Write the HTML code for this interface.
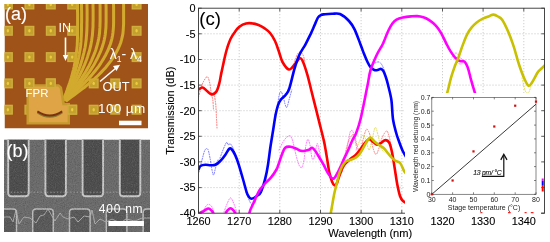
<!DOCTYPE html>
<html><head><meta charset="utf-8"><style>
html,body{margin:0;padding:0;background:#fff;width:550px;height:242px;overflow:hidden}
svg{display:block}
text{font-family:"Liberation Sans",Arial,sans-serif}
</style></head><body>
<svg width="550" height="242" viewBox="0 0 550 242">
<defs>
<clipPath id="ca"><rect x="4.5" y="4" width="143.5" height="124.5"/></clipPath>
<clipPath id="cb"><rect x="4" y="139.5" width="146" height="92.5"/></clipPath>
<clipPath id="cp"><rect x="198.5" y="8.2" width="346" height="205"/></clipPath>
<filter id="nz" x="0" y="0" width="100%" height="100%"><feTurbulence type="fractalNoise" baseFrequency="0.9" numOctaves="2" seed="3"/><feColorMatrix type="matrix" values="0 0 0 0 0.5  0 0 0 0 0.5  0 0 0 0 0.5  1.2 0 0 0 -0.55"/></filter>
<filter id="nz2" x="0" y="0" width="100%" height="100%"><feTurbulence type="fractalNoise" baseFrequency="0.9" numOctaves="2" seed="7"/><feColorMatrix type="matrix" values="0 0 0 0 0  0 0 0 0 0  0 0 0 0 0  0 1.2 0 0 -0.55"/></filter>
<clipPath id="ci"><rect x="431.8" y="97.4" width="104.2" height="96.8"/></clipPath>
</defs>

<g clip-path="url(#ca)">
<rect x="4.5" y="4" width="143.5" height="124.5" fill="#a05318"/>
<rect x="2.9" y="-0.5" width="10" height="10" fill="#cfae3e"/>
<rect x="4.3" y="0.9" width="7.2" height="7.2" fill="#c4a02e"/>
<ellipse cx="7.9" cy="4.5" rx="1.2" ry="1.7" fill="#eccb3e"/>
<rect x="24.4" y="-0.5" width="10" height="10" fill="#cfae3e"/>
<rect x="25.8" y="0.9" width="7.2" height="7.2" fill="#c4a02e"/>
<ellipse cx="29.4" cy="4.5" rx="1.2" ry="1.7" fill="#eccb3e"/>
<rect x="45.8" y="-0.5" width="10" height="10" fill="#cfae3e"/>
<rect x="47.2" y="0.9" width="7.2" height="7.2" fill="#c4a02e"/>
<ellipse cx="50.8" cy="4.5" rx="1.2" ry="1.7" fill="#eccb3e"/>
<rect x="67.2" y="-0.5" width="10" height="10" fill="#cfae3e"/>
<rect x="68.7" y="0.9" width="7.2" height="7.2" fill="#c4a02e"/>
<ellipse cx="72.2" cy="4.5" rx="1.2" ry="1.7" fill="#eccb3e"/>
<rect x="131.6" y="-0.5" width="10" height="10" fill="#cfae3e"/>
<rect x="133.0" y="0.9" width="7.2" height="7.2" fill="#c4a02e"/>
<ellipse cx="136.6" cy="4.5" rx="1.2" ry="1.7" fill="#eccb3e"/>
<rect x="2.9" y="25.8" width="10" height="10" fill="#cfae3e"/>
<rect x="4.3" y="27.2" width="7.2" height="7.2" fill="#c4a02e"/>
<ellipse cx="7.9" cy="30.8" rx="1.2" ry="1.7" fill="#eccb3e"/>
<rect x="24.4" y="25.8" width="10" height="10" fill="#cfae3e"/>
<rect x="25.8" y="27.2" width="7.2" height="7.2" fill="#c4a02e"/>
<ellipse cx="29.4" cy="30.8" rx="1.2" ry="1.7" fill="#eccb3e"/>
<rect x="45.8" y="25.8" width="10" height="10" fill="#cfae3e"/>
<rect x="47.2" y="27.2" width="7.2" height="7.2" fill="#c4a02e"/>
<ellipse cx="50.8" cy="30.8" rx="1.2" ry="1.7" fill="#eccb3e"/>
<rect x="67.2" y="25.8" width="10" height="10" fill="#cfae3e"/>
<rect x="68.7" y="27.2" width="7.2" height="7.2" fill="#c4a02e"/>
<ellipse cx="72.2" cy="30.8" rx="1.2" ry="1.7" fill="#eccb3e"/>
<rect x="131.6" y="25.8" width="10" height="10" fill="#cfae3e"/>
<rect x="133.0" y="27.2" width="7.2" height="7.2" fill="#c4a02e"/>
<ellipse cx="136.6" cy="30.8" rx="1.2" ry="1.7" fill="#eccb3e"/>
<rect x="2.9" y="52.1" width="10" height="10" fill="#cfae3e"/>
<rect x="4.3" y="53.5" width="7.2" height="7.2" fill="#c4a02e"/>
<ellipse cx="7.9" cy="57.1" rx="1.2" ry="1.7" fill="#eccb3e"/>
<rect x="24.4" y="52.1" width="10" height="10" fill="#cfae3e"/>
<rect x="25.8" y="53.5" width="7.2" height="7.2" fill="#c4a02e"/>
<ellipse cx="29.4" cy="57.1" rx="1.2" ry="1.7" fill="#eccb3e"/>
<rect x="45.8" y="52.1" width="10" height="10" fill="#cfae3e"/>
<rect x="47.2" y="53.5" width="7.2" height="7.2" fill="#c4a02e"/>
<ellipse cx="50.8" cy="57.1" rx="1.2" ry="1.7" fill="#eccb3e"/>
<rect x="67.2" y="52.1" width="10" height="10" fill="#cfae3e"/>
<rect x="68.7" y="53.5" width="7.2" height="7.2" fill="#c4a02e"/>
<ellipse cx="72.2" cy="57.1" rx="1.2" ry="1.7" fill="#eccb3e"/>
<rect x="131.6" y="52.1" width="10" height="10" fill="#cfae3e"/>
<rect x="133.0" y="53.5" width="7.2" height="7.2" fill="#c4a02e"/>
<ellipse cx="136.6" cy="57.1" rx="1.2" ry="1.7" fill="#eccb3e"/>
<rect x="2.9" y="78.4" width="10" height="10" fill="#cfae3e"/>
<rect x="4.3" y="79.8" width="7.2" height="7.2" fill="#c4a02e"/>
<ellipse cx="7.9" cy="83.4" rx="1.2" ry="1.7" fill="#eccb3e"/>
<rect x="24.4" y="78.4" width="10" height="10" fill="#cfae3e"/>
<rect x="25.8" y="79.8" width="7.2" height="7.2" fill="#c4a02e"/>
<ellipse cx="29.4" cy="83.4" rx="1.2" ry="1.7" fill="#eccb3e"/>
<rect x="45.8" y="78.4" width="10" height="10" fill="#cfae3e"/>
<rect x="47.2" y="79.8" width="7.2" height="7.2" fill="#c4a02e"/>
<ellipse cx="50.8" cy="83.4" rx="1.2" ry="1.7" fill="#eccb3e"/>
<rect x="88.7" y="78.4" width="10" height="10" fill="#cfae3e"/>
<rect x="90.1" y="79.8" width="7.2" height="7.2" fill="#c4a02e"/>
<ellipse cx="93.7" cy="83.4" rx="1.2" ry="1.7" fill="#eccb3e"/>
<rect x="110.2" y="78.4" width="10" height="10" fill="#cfae3e"/>
<rect x="111.6" y="79.8" width="7.2" height="7.2" fill="#c4a02e"/>
<ellipse cx="115.2" cy="83.4" rx="1.2" ry="1.7" fill="#eccb3e"/>
<rect x="131.6" y="78.4" width="10" height="10" fill="#cfae3e"/>
<rect x="133.0" y="79.8" width="7.2" height="7.2" fill="#c4a02e"/>
<ellipse cx="136.6" cy="83.4" rx="1.2" ry="1.7" fill="#eccb3e"/>
<rect x="2.9" y="104.7" width="10" height="10" fill="#cfae3e"/>
<rect x="4.3" y="106.1" width="7.2" height="7.2" fill="#c4a02e"/>
<ellipse cx="7.9" cy="109.7" rx="1.2" ry="1.7" fill="#eccb3e"/>
<rect x="24.4" y="104.7" width="10" height="10" fill="#cfae3e"/>
<rect x="25.8" y="106.1" width="7.2" height="7.2" fill="#c4a02e"/>
<ellipse cx="29.4" cy="109.7" rx="1.2" ry="1.7" fill="#eccb3e"/>
<rect x="45.8" y="104.7" width="10" height="10" fill="#cfae3e"/>
<rect x="47.2" y="106.1" width="7.2" height="7.2" fill="#c4a02e"/>
<ellipse cx="50.8" cy="109.7" rx="1.2" ry="1.7" fill="#eccb3e"/>
<rect x="67.2" y="104.7" width="10" height="10" fill="#cfae3e"/>
<rect x="68.7" y="106.1" width="7.2" height="7.2" fill="#c4a02e"/>
<ellipse cx="72.2" cy="109.7" rx="1.2" ry="1.7" fill="#eccb3e"/>
<rect x="88.7" y="104.7" width="10" height="10" fill="#cfae3e"/>
<rect x="90.1" y="106.1" width="7.2" height="7.2" fill="#c4a02e"/>
<ellipse cx="93.7" cy="109.7" rx="1.2" ry="1.7" fill="#eccb3e"/>
<rect x="110.2" y="104.7" width="10" height="10" fill="#cfae3e"/>
<rect x="111.6" y="106.1" width="7.2" height="7.2" fill="#c4a02e"/>
<ellipse cx="115.2" cy="109.7" rx="1.2" ry="1.7" fill="#eccb3e"/>
<rect x="131.6" y="104.7" width="10" height="10" fill="#cfae3e"/>
<rect x="133.0" y="106.1" width="7.2" height="7.2" fill="#c4a02e"/>
<ellipse cx="136.6" cy="109.7" rx="1.2" ry="1.7" fill="#eccb3e"/>
<path d="M77.5,-2.0 L77.5,0.7 L77.5,3.3 L77.5,6.0 L77.5,8.7 L77.5,11.3 L77.6,14.0 L77.6,16.7 L77.6,19.3 L77.6,22.0 L77.6,24.6 L77.6,27.3 L77.6,30.0 L77.6,32.6 L77.5,35.3 L77.5,38.0 L77.4,40.6 L77.3,43.3 L77.2,46.0 L76.9,48.6 L76.6,51.3 L76.3,53.9 L75.9,56.5 L75.5,59.2 L75.1,61.8 L74.6,64.4 L74.1,67.0 L73.5,69.6 L72.8,72.2 L72.1,74.8 L71.4,77.4 L70.6,79.9 L69.8,82.4 L68.9,85.0 L68.0,87.5 L67.2,90.0 L66.3,92.5 L65.3,95.0 L64.4,97.5 L63.5,100.0" fill="none" stroke="#d2aa2e" stroke-width="3" stroke-linejoin="round"/>
<path d="M81.5,-2.0 L81.5,0.7 L81.5,3.4 L81.5,6.1 L81.5,8.9 L81.6,11.6 L81.6,14.3 L81.6,17.0 L81.6,19.7 L81.6,22.4 L81.5,25.1 L81.5,27.9 L81.5,30.6 L81.4,33.3 L81.3,36.0 L81.1,38.7 L81.0,41.4 L80.8,44.0 L80.5,46.7 L80.1,49.4 L79.6,52.0 L79.2,54.7 L78.7,57.3 L78.1,59.9 L77.6,62.5 L76.9,65.1 L76.2,67.7 L75.5,70.3 L74.7,72.8 L73.8,75.4 L72.9,77.9 L72.0,80.4 L71.0,82.9 L70.0,85.3 L69.0,87.8 L68.0,90.3 L66.9,92.7 L65.8,95.2 L64.8,97.6 L63.7,100.1" fill="none" stroke="#d2aa2e" stroke-width="3" stroke-linejoin="round"/>
<path d="M87.0,-2.0 L87.0,0.8 L87.0,3.6 L87.0,6.3 L87.1,9.1 L87.1,11.9 L87.1,14.7 L87.1,17.5 L87.1,20.3 L87.0,23.0 L87.0,25.8 L86.9,28.6 L86.8,31.4 L86.6,34.1 L86.4,36.9 L86.2,39.6 L85.8,42.4 L85.5,45.1 L85.0,47.8 L84.4,50.4 L83.8,53.1 L83.1,55.7 L82.5,58.3 L81.7,60.9 L80.9,63.5 L80.1,66.1 L79.2,68.6 L78.2,71.1 L77.2,73.6 L76.2,76.1 L75.1,78.6 L73.9,81.0 L72.7,83.5 L71.5,85.9 L70.3,88.3 L69.1,90.7 L67.8,93.0 L66.5,95.4 L65.3,97.8 L64.0,100.2" fill="none" stroke="#d2aa2e" stroke-width="3" stroke-linejoin="round"/>
<path d="M93.0,-2.0 L93.0,0.9 L93.0,3.7 L93.0,6.6 L93.1,9.4 L93.1,12.3 L93.1,15.1 L93.1,18.0 L93.1,20.9 L93.0,23.7 L93.0,26.6 L92.8,29.4 L92.6,32.3 L92.4,35.1 L92.0,37.9 L91.6,40.7 L91.1,43.4 L90.6,46.2 L89.9,48.9 L89.2,51.6 L88.3,54.2 L87.5,56.9 L86.6,59.5 L85.6,62.0 L84.6,64.6 L83.5,67.1 L82.4,69.6 L81.2,72.1 L80.0,74.6 L78.7,77.0 L77.4,79.4 L76.0,81.8 L74.6,84.1 L73.2,86.5 L71.7,88.8 L70.3,91.1 L68.8,93.4 L67.3,95.7 L65.8,98.0 L64.3,100.3" fill="none" stroke="#d2aa2e" stroke-width="3" stroke-linejoin="round"/>
<path d="M100.0,-2.0 L100.0,0.9 L100.0,3.9 L100.1,6.8 L100.1,9.8 L100.1,12.7 L100.1,15.7 L100.1,18.6 L100.1,21.6 L100.0,24.5 L99.9,27.4 L99.7,30.4 L99.5,33.3 L99.1,36.2 L98.6,39.1 L98.0,41.9 L97.3,44.7 L96.5,47.5 L95.7,50.2 L94.7,52.9 L93.6,55.6 L92.5,58.2 L91.4,60.8 L90.2,63.3 L88.9,65.9 L87.6,68.3 L86.2,70.8 L84.7,73.2 L83.2,75.6 L81.7,78.0 L80.1,80.3 L78.5,82.6 L76.8,84.9 L75.1,87.1 L73.4,89.4 L71.7,91.6 L69.9,93.8 L68.2,96.0 L66.5,98.3 L64.7,100.5" fill="none" stroke="#d2aa2e" stroke-width="3" stroke-linejoin="round"/>
<path d="M106.0,-2.0 L106.0,1.0 L106.0,4.0 L106.1,7.1 L106.1,10.1 L106.1,13.1 L106.1,16.1 L106.1,19.1 L106.1,22.1 L106.0,25.2 L105.9,28.2 L105.6,31.2 L105.3,34.2 L104.8,37.1 L104.2,40.1 L103.5,42.9 L102.6,45.8 L101.7,48.6 L100.6,51.3 L99.4,54.0 L98.2,56.7 L96.9,59.3 L95.5,61.9 L94.1,64.4 L92.6,66.9 L91.0,69.4 L89.4,71.8 L87.7,74.2 L86.0,76.5 L84.2,78.8 L82.4,81.1 L80.6,83.3 L78.7,85.6 L76.8,87.7 L74.8,89.9 L72.9,92.0 L70.9,94.2 L69.0,96.3 L67.0,98.5 L65.0,100.6" fill="none" stroke="#d2aa2e" stroke-width="3" stroke-linejoin="round"/>
<path d="M113.5,-2.0 L113.5,1.1 L113.5,4.2 L113.6,7.3 L113.6,10.4 L113.6,13.6 L113.6,16.7 L113.6,19.8 L113.6,22.9 L113.5,26.0 L113.3,29.1 L113.0,32.2 L112.6,35.3 L112.0,38.3 L111.2,41.3 L110.3,44.3 L109.2,47.1 L108.1,50.0 L106.8,52.7 L105.4,55.5 L103.9,58.1 L102.3,60.7 L100.7,63.3 L99.0,65.8 L97.2,68.3 L95.3,70.7 L93.4,73.0 L91.5,75.4 L89.4,77.6 L87.4,79.9 L85.3,82.1 L83.2,84.2 L81.0,86.4 L78.8,88.5 L76.6,90.5 L74.4,92.5 L72.1,94.6 L69.9,96.7 L67.7,98.7 L65.5,100.8" fill="none" stroke="#d2aa2e" stroke-width="3" stroke-linejoin="round"/>
<path d="M123.5,-2.0 L123.5,1.2 L123.6,4.5 L123.6,7.7 L123.6,10.9 L123.6,14.2 L123.6,17.4 L123.6,20.6 L123.6,23.9 L123.4,27.1 L123.2,30.3 L122.9,33.6 L122.3,36.7 L121.5,39.9 L120.6,43.0 L119.4,46.0 L118.1,48.9 L116.6,51.8 L115.0,54.6 L113.3,57.4 L111.5,60.0 L109.5,62.6 L107.5,65.2 L105.5,67.7 L103.3,70.1 L101.1,72.4 L98.8,74.7 L96.5,77.0 L94.1,79.1 L91.6,81.3 L89.2,83.4 L86.7,85.4 L84.2,87.5 L81.6,89.4 L79.0,91.4 L76.4,93.3 L73.8,95.2 L71.2,97.1 L68.6,99.1 L66.0,101.0" fill="none" stroke="#d2aa2e" stroke-width="3" stroke-linejoin="round"/>
<path d="M26.5,84.2 L59,84.2 L62,87 L64.8,103 L70,103 L70,124.5 L26.5,124.5 Z" fill="#c49a2c"/>
<path d="M28.8,86.6 L58,86.6 L59.8,88.5 L62.3,105.3 L67.6,105.3 L67.6,122.3 L28.8,122.3 Z" fill="#dea445"/>
<path d="M37.4,112.4 Q49.8,121 62.2,112.4" fill="none" stroke="#8a7a2a" stroke-width="2"/>
<path d="M37.4,111.4 Q49.8,119.6 62.2,111.4" fill="none" stroke="#7a3212" stroke-width="1.9"/>
<rect x="24.4" y="78.4" width="10" height="10" fill="#cfae3e"/>
<rect x="25.8" y="79.8" width="7.2" height="7.2" fill="#c4a02e"/>
<ellipse cx="29.4" cy="83.4" rx="1.2" ry="1.7" fill="#eccb3e"/>
<rect x="45.8" y="78.4" width="10" height="10" fill="#cfae3e"/>
<rect x="47.2" y="79.8" width="7.2" height="7.2" fill="#c4a02e"/>
<ellipse cx="50.8" cy="83.4" rx="1.2" ry="1.7" fill="#eccb3e"/>
<rect x="67.2" y="104.7" width="10" height="10" fill="#cfae3e"/>
<rect x="68.7" y="106.1" width="7.2" height="7.2" fill="#c4a02e"/>
<ellipse cx="72.2" cy="109.7" rx="1.2" ry="1.7" fill="#eccb3e"/>
<text x="5" y="19.8" font-size="18" fill="#fff" stroke="#fff" stroke-width="0.1">(a)</text>
<text x="58.6" y="32" font-size="12.5" fill="#fff">IN</text>
<path d="M65.5,37.5 L65.5,56" stroke="#fff" stroke-width="1.6"/>
<path d="M62.8,55 L65.5,61 L68.2,55 Z" fill="#fff"/>
<text x="25.6" y="97.4" font-size="11.4" fill="#fff">FPR</text>
<text x="102.5" y="91.3" font-size="12.8" fill="#fff">OUT</text>
<path d="M100,81.5 L116,68" stroke="#fff" stroke-width="1.5"/>
<path d="M113,66 L120,64.7 L116.5,71 Z" fill="#fff"/>
<text x="109.8" y="59.3" font-size="14" fill="#fff">λ<tspan font-size="8.5" dy="3">1</tspan><tspan dy="-3">- λ</tspan><tspan font-size="8.5" dy="3">4</tspan></text>
<text x="98.1" y="113.3" font-size="13.5" letter-spacing="0.35" fill="#fff">100 µm</text>
<rect x="119" y="120.7" width="22.5" height="4.5" fill="#fff"/>
</g>
<g clip-path="url(#cb)">
<rect x="4" y="139.5" width="146" height="92.5" fill="#6c6c6c"/>
<path d="M8.2,139 L8.2,193 Q8.2,196.2 11.4,196.2 L25.5,196.2 Q28.7,196.2 28.7,193 L28.7,139 Z" fill="#4e4e4e" stroke="#cacaca" stroke-width="1.9"/>
<path d="M45.4,139 L45.4,193 Q45.4,196.2 48.6,196.2 L62.7,196.2 Q65.9,196.2 65.9,193 L65.9,139 Z" fill="#4e4e4e" stroke="#cacaca" stroke-width="1.9"/>
<path d="M82.6,139 L82.6,193 Q82.6,196.2 85.8,196.2 L99.9,196.2 Q103.1,196.2 103.1,193 L103.1,139 Z" fill="#4e4e4e" stroke="#cacaca" stroke-width="1.9"/>
<path d="M119.8,139 L119.8,193 Q119.8,196.2 123.0,196.2 L137.1,196.2 Q140.3,196.2 140.3,193 L140.3,139 Z" fill="#4e4e4e" stroke="#cacaca" stroke-width="1.9"/>
<path d="M4,192.2 H150" stroke="#b0b0b0" stroke-width="0.7" stroke-dasharray="1.5,1.8"/>
<path d="M-4.1,233 L-4.1,212.5 Q-4.1,209 -0.6,209 L13.0,209 Q16.5,209 16.5,212.5 L16.5,233 Z" fill="#5a5a5a" stroke="#bcbcbc" stroke-width="1.5"/>
<path d="M32.7,233 L32.7,212.5 Q32.7,209 36.2,209 L49.8,209 Q53.3,209 53.3,212.5 L53.3,233 Z" fill="#5a5a5a" stroke="#bcbcbc" stroke-width="1.5"/>
<path d="M69.5,233 L69.5,212.5 Q69.5,209 73.0,209 L86.6,209 Q90.1,209 90.1,212.5 L90.1,233 Z" fill="#5a5a5a" stroke="#bcbcbc" stroke-width="1.5"/>
<path d="M106.3,233 L106.3,212.5 Q106.3,209 109.8,209 L123.4,209 Q126.9,209 126.9,212.5 L126.9,233 Z" fill="#5a5a5a" stroke="#bcbcbc" stroke-width="1.5"/>
<path d="M143.1,233 L143.1,212.5 Q143.1,209 146.6,209 L160.2,209 Q163.7,209 163.7,212.5 L163.7,233 Z" fill="#5a5a5a" stroke="#bcbcbc" stroke-width="1.5"/>
<path d="M4,217 L10,217 L13,222 L16,210 L19,224 L24,217 L30,218 L36,223 L40,216 L44,215 L48,209 L52,216 L55,221 L60,213 L63,217 L68,219 L74,217 L78,222 L84,216 L90,217 L92,210 L95,224 L100,219 L106,222 L112,219 L120,223 L126,219 L135,221 L142,218 L150,218" fill="none" stroke="#b4b4b4" stroke-width="0.9"/>
<rect x="4" y="139.5" width="146" height="92.5" filter="url(#nz)" opacity="0.35"/>
<rect x="4" y="139.5" width="146" height="92.5" filter="url(#nz2)" opacity="0.35"/>
<text x="6.5" y="157.4" font-size="18" fill="#fff" stroke="#fff" stroke-width="0.1">(b)</text>
<text x="98.8" y="213" font-size="12" letter-spacing="0.75" fill="#fff">400 nm</text>
<rect x="108.4" y="221" width="35.5" height="5" fill="#fff"/>
</g>
<path d="M239.2,8.2 V213.2 M279.8,8.2 V213.2 M320.5,8.2 V213.2 M361.1,8.2 V213.2 M401.8,8.2 V213.2 M442.5,8.2 V213.2 M483.1,8.2 V213.2 M523.8,8.2 V213.2 M198.5,33.8 H544.5 M198.5,59.5 H544.5 M198.5,85.1 H544.5 M198.5,110.7 H544.5 M198.5,136.3 H544.5 M198.5,161.9 H544.5 M198.5,187.6 H544.5" stroke="#b4b4b4" stroke-width="0.8" stroke-dasharray="1,2" fill="none"/>
<g clip-path="url(#cp)" fill="none" stroke-linejoin="round" stroke-linecap="round">
<path d="M198.5,97.0 C199.1,95.0 200.9,88.0 202.0,85.0 C203.1,82.0 204.1,80.4 205.0,79.0 C205.9,77.6 206.7,76.2 207.4,76.7 C208.2,77.2 208.8,79.1 209.5,82.0 C210.2,84.9 210.8,91.2 211.4,94.2 C212.0,97.2 212.5,97.4 212.8,100.0 C213.2,102.6 213.4,108.3 213.5,110.0" stroke="#ff4040" stroke-width="0.9" stroke-dasharray="1,1.6" opacity="0.8"/>
<path d="M214.5,96.0 C214.7,97.5 215.5,101.3 215.8,105.0 C216.1,108.7 216.3,114.2 216.5,118.0 C216.7,121.8 216.9,126.3 217.0,128.0" stroke="#ff4040" stroke-width="0.9" stroke-dasharray="1,1.6" opacity="0.8"/>
<path d="M294.0,64.0 C294.5,62.5 296.0,57.0 297.0,55.0 C298.0,53.0 299.0,52.0 300.0,52.0 C301.0,52.0 302.2,53.3 303.0,55.0 C303.8,56.7 304.7,60.8 305.0,62.0" stroke="#ff4040" stroke-width="0.9" stroke-dasharray="1,1.6" opacity="0.8"/>
<path d="M275.0,115.0 C275.3,113.8 276.3,111.2 277.0,108.0 C277.7,104.8 278.4,98.8 279.0,96.0 C279.6,93.2 280.1,91.5 280.8,91.5 C281.5,91.5 282.3,93.9 283.0,96.0 C283.7,98.1 284.4,102.1 285.0,104.0 C285.6,105.9 286.1,108.0 286.8,107.3 C287.5,106.6 288.2,102.9 289.0,100.0 C289.8,97.1 291.3,91.7 291.8,90.0" stroke="#4040ff" stroke-width="0.9" stroke-dasharray="1,1.6" opacity="0.8"/>
<path d="M199.0,172.0 C199.5,170.0 201.0,163.7 202.0,160.0 C203.0,156.3 204.0,151.8 205.0,150.0 C206.0,148.2 207.1,148.2 207.9,149.5 C208.7,150.8 209.3,154.6 210.0,158.0 C210.7,161.4 211.4,167.2 212.0,170.0 C212.6,172.8 212.9,175.3 213.5,175.0 C214.1,174.7 214.8,170.5 215.5,168.0 C216.2,165.5 217.6,161.3 218.0,160.0" stroke="#4040ff" stroke-width="0.9" stroke-dasharray="1,1.6" opacity="0.8"/>
<path d="M220.0,158.0 C220.5,156.7 221.9,152.6 223.0,150.0 C224.1,147.4 225.6,143.3 226.5,142.5 C227.4,141.7 227.9,144.8 228.5,145.0 C229.1,145.2 229.4,143.2 230.2,143.7 C230.9,144.2 232.0,145.9 233.0,148.0 C234.0,150.1 235.5,154.7 236.0,156.0" stroke="#4040ff" stroke-width="0.9" stroke-dasharray="1,1.6" opacity="0.8"/>
<path d="M371.0,66.0 C371.7,65.5 373.7,63.7 375.0,63.0 C376.3,62.3 377.7,61.7 378.9,62.0 C380.1,62.3 381.0,63.3 382.0,65.0 C383.0,66.7 384.5,70.8 385.0,72.0" stroke="#4040ff" stroke-width="0.9" stroke-dasharray="1,1.6" opacity="0.8"/>
<path d="M246.0,192.0 C246.7,193.7 248.8,199.8 250.0,202.0 C251.2,204.2 252.0,205.3 253.0,205.0 C254.0,204.7 255.5,200.8 256.0,200.0" stroke="#4040ff" stroke-width="0.9" stroke-dasharray="1,1.6" opacity="0.8"/>
<path d="M203.0,212.0 C203.5,211.0 205.0,207.3 206.0,206.0 C207.0,204.7 208.0,204.2 209.0,204.4 C210.0,204.6 211.2,205.6 212.0,207.0 C212.8,208.4 213.7,212.0 214.0,213.0" stroke="#ff40ff" stroke-width="0.9" stroke-dasharray="1,1.6" opacity="0.8"/>
<path d="M224.0,212.0 C224.5,210.7 225.9,206.3 227.0,204.0 C228.1,201.7 229.3,197.9 230.5,197.9 C231.7,197.9 232.9,201.5 234.0,204.0 C235.1,206.5 236.5,211.5 237.0,213.0" stroke="#ff40ff" stroke-width="0.9" stroke-dasharray="1,1.6" opacity="0.8"/>
<path d="M279.0,150.0 C279.7,148.7 281.7,144.2 283.0,142.0 C284.3,139.8 285.8,138.0 287.0,137.0 C288.2,136.0 289.4,135.2 290.4,136.0 C291.4,136.8 292.1,138.8 293.0,142.0 C293.9,145.2 295.0,151.2 296.0,155.0 C297.0,158.8 298.0,162.9 299.0,165.0 C300.0,167.1 301.0,168.2 301.8,167.4 C302.6,166.6 303.3,163.7 304.0,160.0 C304.7,156.3 305.3,148.4 306.0,145.0 C306.7,141.6 307.3,139.5 308.0,139.5 C308.7,139.5 309.3,141.9 310.0,145.0 C310.7,148.1 311.3,155.8 312.0,158.0 C312.7,160.2 313.3,159.7 314.0,158.0 C314.7,156.3 315.4,150.4 316.0,148.0 C316.6,145.6 316.8,143.3 317.3,143.6 C317.8,143.9 318.4,147.3 319.0,150.0 C319.6,152.7 320.7,158.3 321.0,160.0" stroke="#ff40ff" stroke-width="0.9" stroke-dasharray="1,1.6" opacity="0.8"/>
<path d="M343.0,160.0 C343.6,158.8 345.4,156.3 346.3,153.0 C347.2,149.7 347.8,143.6 348.5,140.0 C349.2,136.4 349.7,132.9 350.4,131.4 C351.1,129.9 351.9,130.2 352.5,130.8 C353.1,131.4 353.5,133.0 354.0,135.0 C354.5,137.0 355.1,140.3 355.6,142.8 C356.1,145.3 356.8,148.8 357.0,150.0" stroke="#ff40ff" stroke-width="0.9" stroke-dasharray="1,1.6" opacity="0.8"/>
<path d="M452.0,57.0 C452.7,56.3 454.7,53.0 456.0,53.0 C457.3,53.0 458.8,55.5 460.0,57.0 C461.2,58.5 463.0,60.8 463.0,62.0 C463.0,63.2 461.2,64.2 460.0,64.0 C458.8,63.8 456.7,61.5 456.0,61.0" stroke="#ff40ff" stroke-width="0.9" stroke-dasharray="1,1.6" opacity="0.8"/>
<path d="M342.0,172.0 C342.7,168.3 344.7,155.7 346.0,150.0 C347.3,144.3 348.7,140.5 350.0,138.0 C351.3,135.5 352.8,133.8 354.0,135.0 C355.2,136.2 356.0,142.2 357.0,145.0 C358.0,147.8 359.0,152.8 360.0,152.0 C361.0,151.2 361.9,143.8 363.0,140.0 C364.1,136.2 365.3,130.1 366.5,129.3 C367.7,128.5 368.9,131.9 370.0,135.0 C371.1,138.1 372.0,144.8 373.0,148.0 C374.0,151.2 375.0,154.5 376.0,154.5 C377.0,154.5 378.0,150.8 379.0,148.0 C380.0,145.2 380.8,140.8 382.0,138.0 C383.2,135.2 385.3,131.3 386.5,131.0 C387.7,130.7 388.2,133.7 389.0,136.0 C389.8,138.3 390.7,143.5 391.0,145.0" stroke="#ff5050" stroke-width="0.9" stroke-dasharray="1,1.6" opacity="0.8"/>
<path d="M356.0,150.0 C356.7,148.3 358.8,142.5 360.0,140.0 C361.2,137.5 362.0,135.0 363.0,135.0 C364.0,135.0 365.0,137.5 366.0,140.0 C367.0,142.5 368.0,150.0 369.0,150.0 C370.0,150.0 371.0,143.8 372.0,140.0 C373.0,136.2 374.2,128.3 375.2,127.5 C376.2,126.7 377.0,131.6 378.0,135.0 C379.0,138.4 380.0,145.2 381.0,148.0 C382.0,150.8 383.5,151.3 384.0,152.0" stroke="#d8d020" stroke-width="0.9" stroke-dasharray="1,1.6" opacity="0.8"/>
<path d="M522.0,78.0 C522.5,80.0 524.2,87.5 525.0,90.0 C525.8,92.5 526.3,92.7 527.0,93.0 C527.7,93.3 528.3,93.2 529.0,92.0 C529.7,90.8 530.7,87.0 531.0,86.0" stroke="#d8d020" stroke-width="0.9" stroke-dasharray="1,1.6" opacity="0.8"/>
<path d="M198.5,89.4 C199.2,89.1 201.1,87.2 202.6,87.5 C204.1,87.8 205.7,90.1 207.3,91.3 C208.9,92.5 210.4,94.4 212.0,94.4 C213.6,94.4 215.4,93.2 216.6,91.3 C217.8,89.4 218.6,85.9 219.4,82.9 C220.2,80.0 220.5,76.8 221.2,73.6 C221.9,70.4 222.7,66.6 223.4,63.5 C224.1,60.4 224.6,57.7 225.3,55.0 C226.0,52.3 226.5,50.0 227.4,47.3 C228.3,44.6 229.3,41.5 230.5,39.0 C231.7,36.5 233.1,34.3 234.7,32.2 C236.2,30.1 237.9,27.8 239.8,26.4 C241.7,24.9 243.9,24.0 246.0,23.5 C248.1,23.0 250.2,23.1 252.3,23.4 C254.4,23.6 256.4,24.2 258.5,25.0 C260.6,25.8 262.8,27.1 264.7,28.4 C266.6,29.7 268.2,30.7 269.9,32.8 C271.6,34.9 273.5,37.9 275.0,41.0 C276.5,44.1 277.6,47.8 278.8,51.3 C280.1,54.8 280.8,59.0 282.5,62.0 C284.2,65.0 287.0,69.1 289.0,69.5 C291.0,69.9 292.9,66.2 294.7,64.3 C296.5,62.4 298.6,58.6 300.0,58.3 C301.4,58.0 302.1,59.6 303.3,62.4 C304.5,65.2 306.0,70.0 307.4,74.8 C308.8,79.6 310.1,85.8 311.5,91.3 C312.9,96.8 314.3,102.4 315.7,107.9 C317.1,113.4 318.4,118.9 319.8,124.4 C321.2,129.9 322.9,136.5 323.9,140.9 C324.9,145.3 325.2,147.6 325.8,151.0 C326.4,154.4 326.9,157.6 327.5,161.2 C328.1,164.8 328.5,169.0 329.3,172.4 C330.1,175.8 331.2,179.5 332.1,181.7 C333.0,183.9 333.7,185.1 334.5,185.4 C335.3,185.7 336.1,184.7 336.8,183.5 C337.5,182.3 337.8,180.2 338.6,178.0 C339.4,175.8 340.5,172.7 341.4,170.5 C342.3,168.3 342.7,166.8 344.2,164.9 C345.7,163.0 348.5,160.7 350.4,159.0 C352.3,157.3 353.9,156.8 355.7,155.0 C357.5,153.2 359.5,150.2 361.1,148.2 C362.7,146.2 363.8,144.3 365.1,142.8 C366.5,141.3 367.9,139.4 369.2,139.3 C370.5,139.2 371.9,141.1 373.2,142.0 C374.5,142.9 375.8,144.6 377.2,144.7 C378.6,144.8 379.9,143.6 381.3,142.8 C382.7,142.0 384.0,140.1 385.3,140.1 C386.6,140.1 388.2,140.8 389.3,142.8 C390.4,144.8 391.1,147.9 392.0,152.2 C392.9,156.4 393.8,162.8 394.7,168.3 C395.6,173.8 396.5,180.4 397.4,185.0 C398.3,189.6 399.1,193.3 400.0,196.0 C400.9,198.7 401.3,199.5 403.0,201.0 C404.7,202.5 408.8,204.3 410.0,205.0" stroke="#ff0000" stroke-width="2.6"/>
<path d="M198.5,169.5 C198.8,168.9 199.3,166.8 200.5,166.0 C201.7,165.2 203.8,164.9 205.4,164.8 C207.1,164.7 208.8,165.2 210.4,165.2 C212.1,165.2 213.7,165.5 215.3,164.8 C217.0,164.1 218.7,162.7 220.3,161.0 C222.0,159.3 223.8,156.9 225.2,154.9 C226.6,152.9 228.0,150.0 229.0,149.0 C230.0,148.0 230.4,148.0 231.4,149.0 C232.4,150.0 233.9,152.3 235.1,154.9 C236.3,157.5 237.4,160.3 238.8,164.8 C240.2,169.3 242.4,177.1 243.8,182.0 C245.2,186.9 246.2,191.7 247.5,194.5 C248.8,197.3 249.8,198.5 251.5,198.7 C253.2,198.9 255.9,196.6 257.5,195.5 C259.1,194.4 259.5,194.9 260.8,192.2 C262.1,189.5 263.9,183.8 265.1,179.2 C266.3,174.6 267.1,170.4 268.0,164.7 C268.9,159.0 269.8,150.8 270.7,145.0 C271.6,139.2 272.4,134.7 273.2,129.7 C274.0,124.7 274.8,118.9 275.6,114.8 C276.4,110.7 277.3,107.4 278.1,104.9 C278.9,102.4 279.4,101.6 280.6,99.9 C281.9,98.2 284.2,96.8 285.6,94.9 C287.1,93.0 287.8,93.0 289.3,88.5 C290.8,84.0 293.0,73.6 294.7,68.0 C296.4,62.4 297.5,59.0 299.3,55.0 C301.1,51.0 303.6,47.8 305.5,44.3 C307.4,40.8 309.1,37.2 310.7,33.9 C312.2,30.6 313.6,27.3 314.8,24.6 C316.0,21.9 316.9,19.2 317.9,17.6 C318.9,16.0 319.8,15.6 321.0,15.0 C322.2,14.4 323.3,14.5 325.1,14.3 C326.9,14.1 329.5,13.9 332.0,13.8 C334.5,13.8 337.2,12.8 340.0,14.0 C342.8,15.2 346.6,18.4 349.0,21.0 C351.4,23.6 352.8,25.6 354.7,29.6 C356.6,33.6 359.1,40.9 360.7,45.0 C362.3,49.1 363.0,51.3 364.1,54.1 C365.2,56.9 366.4,59.7 367.5,62.0 C368.6,64.3 369.8,66.4 370.9,67.7 C372.0,69.0 373.2,69.6 374.3,70.0 C375.4,70.4 376.6,70.2 377.7,70.0 C378.8,69.8 380.2,68.7 381.1,68.9 C382.1,69.1 382.6,69.8 383.4,71.1 C384.2,72.4 384.9,74.5 385.7,76.8 C386.5,79.1 387.1,80.9 388.0,84.8 C388.9,88.7 390.6,94.3 391.4,100.0 C392.2,105.7 392.2,113.8 393.0,119.2 C393.8,124.6 395.1,128.7 396.0,132.2 C396.9,135.7 397.3,136.8 398.5,140.0 C399.7,143.2 401.4,148.2 403.0,151.5 C404.6,154.8 407.2,158.6 408.0,160.0" stroke="#0000ff" stroke-width="2.6"/>
<path d="M198.5,213.7 C199.2,213.3 201.4,212.4 203.0,211.5 C204.6,210.6 206.7,208.6 208.2,208.5 C209.7,208.4 210.9,209.9 212.0,211.0 C213.1,212.1 213.0,214.3 215.0,215.0 C217.0,215.7 222.0,215.7 224.0,215.0 C226.0,214.3 225.9,212.1 227.0,211.0 C228.1,209.9 229.3,208.2 230.5,208.2 C231.7,208.2 232.9,209.9 234.0,211.0 C235.1,212.1 234.8,214.2 237.0,215.0 C239.2,215.8 245.2,216.4 247.5,215.5 C249.8,214.6 249.5,211.6 250.5,209.5 C251.5,207.4 252.5,205.2 253.5,203.0 C254.5,200.8 255.2,198.8 256.3,196.5 C257.4,194.2 258.5,191.7 260.0,189.5 C261.5,187.3 263.3,185.5 265.1,183.5 C266.9,181.5 269.0,180.0 270.9,177.7 C272.8,175.4 275.3,171.6 276.5,169.5 C277.7,167.4 277.3,167.9 278.2,165.3 C279.1,162.7 280.9,156.8 282.1,153.9 C283.3,151.0 283.8,148.9 285.2,147.7 C286.6,146.5 288.5,146.5 290.4,146.7 C292.3,146.9 294.9,148.1 296.6,148.8 C298.3,149.5 299.3,150.5 300.7,150.8 C302.1,151.1 303.5,151.0 304.9,150.8 C306.3,150.6 307.8,150.3 309.0,149.8 C310.2,149.3 311.1,147.5 312.1,147.7 C313.1,147.9 314.0,149.2 315.2,150.8 C316.4,152.4 317.9,155.2 319.3,157.5 C320.7,159.8 322.3,162.4 323.7,164.9 C325.1,167.4 326.2,170.3 327.5,172.4 C328.8,174.5 330.1,176.6 331.2,177.6 C332.3,178.6 333.1,178.9 334.0,178.3 C334.9,177.7 335.7,176.1 336.8,174.2 C337.9,172.3 339.3,169.4 340.5,166.8 C341.7,164.2 342.9,161.1 344.2,158.4 C345.4,155.7 346.6,153.6 348.0,150.5 C349.4,147.4 351.1,142.9 352.5,140.0 C353.9,137.1 354.9,136.5 356.2,133.0 C357.5,129.5 359.1,124.9 360.5,119.2 C361.9,113.5 363.6,104.7 364.8,98.9 C366.0,93.1 366.7,89.3 367.7,84.5 C368.7,79.7 369.1,74.9 370.6,70.0 C372.1,65.1 374.7,59.4 376.6,55.2 C378.6,51.0 381.1,47.4 382.3,45.0 C383.6,42.6 383.1,43.4 384.1,41.0 C385.1,38.6 386.9,33.6 388.3,30.7 C389.7,27.8 391.0,25.4 392.4,23.5 C393.8,21.6 394.8,20.6 396.5,19.6 C398.2,18.6 400.3,18.0 402.7,17.5 C405.1,17.0 408.6,16.6 411.0,16.4 C413.4,16.2 415.1,16.0 417.2,16.1 C419.3,16.2 421.3,16.6 423.4,17.3 C425.5,18.0 427.5,19.0 429.6,20.4 C431.7,21.8 433.9,23.5 435.8,25.6 C437.7,27.7 439.3,29.9 441.0,32.8 C442.7,35.7 444.6,40.2 446.1,43.1 C447.6,46.0 448.5,48.0 450.0,50.4 C451.5,52.8 453.2,55.6 454.9,57.4 C456.5,59.2 458.4,60.5 459.9,61.1 C461.3,61.7 462.6,60.7 463.6,61.1 C464.6,61.5 465.2,62.2 466.0,63.6 C466.8,65.0 467.7,67.1 468.5,69.8 C469.3,72.5 470.0,76.0 471.0,79.7 C472.0,83.4 473.5,88.4 474.7,92.1 C475.9,95.8 477.4,100.3 478.0,102.0" stroke="#ff00ff" stroke-width="2.6"/>
<path d="M330.5,215.0 C331.1,211.7 333.1,199.6 334.0,195.0 C334.9,190.4 335.2,189.8 335.8,187.3 C336.4,184.8 337.1,182.3 337.7,179.8 C338.3,177.3 338.8,174.7 339.6,172.4 C340.4,170.1 341.3,167.7 342.4,165.8 C343.5,163.9 344.8,162.2 346.1,161.2 C347.4,160.2 348.8,160.6 350.4,160.0 C352.0,159.4 354.1,158.7 355.7,157.6 C357.3,156.5 358.4,155.4 359.8,153.6 C361.2,151.8 362.5,149.2 363.8,146.9 C365.1,144.7 366.7,141.7 367.8,140.1 C368.9,138.5 369.4,137.3 370.5,137.5 C371.6,137.7 373.1,140.3 374.5,141.5 C375.9,142.7 377.0,143.6 378.6,144.7 C380.2,145.8 382.1,146.5 383.9,148.2 C385.7,149.9 387.5,152.9 389.3,154.9 C391.1,156.9 392.9,159.0 394.7,160.3 C396.5,161.7 398.5,161.2 400.1,163.0 C401.7,164.8 402.8,168.8 404.1,171.0 C405.4,173.2 407.5,174.6 408.1,176.4 C408.8,178.2 408.0,181.1 408.0,182.0" stroke="#c8c000" stroke-width="2.6"/>
<path d="M440.0,115.0 C440.7,112.7 442.8,104.8 444.0,101.0 C445.2,97.2 446.2,96.1 447.4,92.1 C448.6,88.1 449.9,81.5 451.2,77.2 C452.4,72.9 453.8,69.1 454.9,66.0 C456.0,62.9 457.1,61.3 458.1,58.5 C459.2,55.7 460.2,52.2 461.2,49.3 C462.2,46.4 463.3,43.6 464.3,41.0 C465.3,38.4 466.2,36.0 467.4,33.8 C468.6,31.6 469.9,29.5 471.5,27.6 C473.1,25.7 474.8,23.9 476.7,22.4 C478.6,20.9 480.8,19.7 482.9,18.7 C485.0,17.7 487.3,16.9 489.1,16.2 C490.9,15.5 492.0,14.5 493.5,14.6 C495.0,14.7 496.5,15.6 498.0,16.5 C499.5,17.4 500.7,17.6 502.3,20.0 C503.9,22.4 506.0,26.7 507.9,31.0 C509.8,35.3 511.6,40.3 513.5,45.9 C515.4,51.5 517.1,58.9 519.0,64.5 C520.9,70.1 523.0,75.8 524.6,79.3 C526.2,82.8 527.4,85.3 528.6,85.8 C529.8,86.3 530.5,84.7 532.0,82.5 C533.5,80.3 536.1,74.8 537.6,72.5 C539.1,70.2 539.6,70.4 541.0,69.0 C542.4,67.6 545.2,64.8 546.0,64.0" stroke="#c8c000" stroke-width="2.6"/>
</g>
<rect x="198.5" y="8.2" width="346.0" height="205.0" fill="none" stroke="#333" stroke-width="0.9"/>
<path d="M198.5,213.2 v-3.2 M198.5,8.2 v3.2 M239.2,213.2 v-3.2 M239.2,8.2 v3.2 M279.8,213.2 v-3.2 M279.8,8.2 v3.2 M320.5,213.2 v-3.2 M320.5,8.2 v3.2 M361.1,213.2 v-3.2 M361.1,8.2 v3.2 M401.8,213.2 v-3.2 M401.8,8.2 v3.2 M442.5,213.2 v-3.2 M442.5,8.2 v3.2 M483.1,213.2 v-3.2 M483.1,8.2 v3.2 M523.8,213.2 v-3.2 M523.8,8.2 v3.2 M198.5,8.2 h3.2 M544.5,8.2 h-3.2 M198.5,33.8 h3.2 M544.5,33.8 h-3.2 M198.5,59.5 h3.2 M544.5,59.5 h-3.2 M198.5,85.1 h3.2 M544.5,85.1 h-3.2 M198.5,110.7 h3.2 M544.5,110.7 h-3.2 M198.5,136.3 h3.2 M544.5,136.3 h-3.2 M198.5,161.9 h3.2 M544.5,161.9 h-3.2 M198.5,187.6 h3.2 M544.5,187.6 h-3.2 M198.5,213.2 h3.2 M544.5,213.2 h-3.2" stroke="#333" stroke-width="0.8"/>
<rect x="405" y="93" width="136" height="122" fill="#fff"/>
<path d="M480.4,212.6 h2 M508,212.6 h2.7 M524.6,212.6 h2 M530.8,212.6 h2.7" stroke="#ff2020" stroke-width="1.4"/>
<path d="M542.7,178.5 V180.8" stroke="#ff00ff" stroke-width="2"/><path d="M542.7,180.8 V185" stroke="#0000ff" stroke-width="2"/><path d="M542.7,185 V191.5" stroke="#ff0000" stroke-width="2"/>
<text x="195.5" y="12.0" font-size="10.9" text-anchor="end" fill="#000" stroke="#000" stroke-width="0.1">0</text>
<text x="195.5" y="37.6" font-size="10.9" text-anchor="end" fill="#000" stroke="#000" stroke-width="0.1">-5</text>
<text x="195.5" y="63.2" font-size="10.9" text-anchor="end" fill="#000" stroke="#000" stroke-width="0.1">-10</text>
<text x="195.5" y="88.9" font-size="10.9" text-anchor="end" fill="#000" stroke="#000" stroke-width="0.1">-15</text>
<text x="195.5" y="114.5" font-size="10.9" text-anchor="end" fill="#000" stroke="#000" stroke-width="0.1">-20</text>
<text x="195.5" y="140.1" font-size="10.9" text-anchor="end" fill="#000" stroke="#000" stroke-width="0.1">-25</text>
<text x="195.5" y="165.8" font-size="10.9" text-anchor="end" fill="#000" stroke="#000" stroke-width="0.1">-30</text>
<text x="195.5" y="191.4" font-size="10.9" text-anchor="end" fill="#000" stroke="#000" stroke-width="0.1">-35</text>
<text x="195.5" y="217.0" font-size="10.9" text-anchor="end" fill="#000" stroke="#000" stroke-width="0.1">-40</text>
<text x="198.5" y="225.3" font-size="10.9" text-anchor="middle" fill="#000" stroke="#000" stroke-width="0.1">1260</text>
<text x="239.2" y="225.3" font-size="10.9" text-anchor="middle" fill="#000" stroke="#000" stroke-width="0.1">1270</text>
<text x="279.8" y="225.3" font-size="10.9" text-anchor="middle" fill="#000" stroke="#000" stroke-width="0.1">1280</text>
<text x="320.5" y="225.3" font-size="10.9" text-anchor="middle" fill="#000" stroke="#000" stroke-width="0.1">1290</text>
<text x="361.1" y="225.3" font-size="10.9" text-anchor="middle" fill="#000" stroke="#000" stroke-width="0.1">1300</text>
<text x="401.8" y="225.3" font-size="10.9" text-anchor="middle" fill="#000" stroke="#000" stroke-width="0.1">1310</text>
<text x="442.5" y="225.3" font-size="10.9" text-anchor="middle" fill="#000" stroke="#000" stroke-width="0.1">1320</text>
<text x="483.1" y="225.3" font-size="10.9" text-anchor="middle" fill="#000" stroke="#000" stroke-width="0.1">1330</text>
<text x="523.8" y="225.3" font-size="10.9" text-anchor="middle" fill="#000" stroke="#000" stroke-width="0.1">1340</text>
<text x="370.2" y="236.8" font-size="11.1" text-anchor="middle" fill="#000" stroke="#000" stroke-width="0.1">Wavelength (nm)</text>
<text transform="translate(174.3,110.7) rotate(-90)" font-size="10.9" text-anchor="middle" fill="#000" stroke="#000" stroke-width="0.1">Transmission (dB)</text>
<text x="199.3" y="25.2" font-size="18.5" fill="#000" stroke="#000" stroke-width="0.05">(c)</text>
<rect x="431.8" y="97.4" width="104.2" height="96.9" fill="none" stroke="#555" stroke-width="0.7"/>
<path d="M431.8,194.3 v-2 M431.8,97.4 v2 M452.6,194.3 v-2 M452.6,97.4 v2 M473.5,194.3 v-2 M473.5,97.4 v2 M494.3,194.3 v-2 M494.3,97.4 v2 M515.2,194.3 v-2 M515.2,97.4 v2 M536.0,194.3 v-2 M536.0,97.4 v2 M431.8,194.3 h2 M536.0,194.3 h-2 M431.8,180.5 h2 M536.0,180.5 h-2 M431.8,166.6 h2 M536.0,166.6 h-2 M431.8,152.8 h2 M536.0,152.8 h-2 M431.8,138.9 h2 M536.0,138.9 h-2 M431.8,125.1 h2 M536.0,125.1 h-2 M431.8,111.2 h2 M536.0,111.2 h-2 M431.8,97.4 h2 M536.0,97.4 h-2" stroke="#333" stroke-width="0.6"/>
<text x="430.4" y="196.7" font-size="7" text-anchor="end" fill="#222">0</text>
<text x="430.4" y="182.9" font-size="7" text-anchor="end" fill="#222">0.1</text>
<text x="430.4" y="169.0" font-size="7" text-anchor="end" fill="#222">0.2</text>
<text x="430.4" y="155.2" font-size="7" text-anchor="end" fill="#222">0.3</text>
<text x="430.4" y="141.3" font-size="7" text-anchor="end" fill="#222">0.4</text>
<text x="430.4" y="127.5" font-size="7" text-anchor="end" fill="#222">0.5</text>
<text x="430.4" y="113.6" font-size="7" text-anchor="end" fill="#222">0.6</text>
<text x="430.4" y="99.8" font-size="7" text-anchor="end" fill="#222">0.7</text>
<text x="431.8" y="201.5" font-size="7" text-anchor="middle" fill="#222">30</text>
<text x="452.6" y="201.5" font-size="7" text-anchor="middle" fill="#222">40</text>
<text x="473.5" y="201.5" font-size="7" text-anchor="middle" fill="#222">50</text>
<text x="494.3" y="201.5" font-size="7" text-anchor="middle" fill="#222">60</text>
<text x="515.2" y="201.5" font-size="7" text-anchor="middle" fill="#222">70</text>
<text x="536.0" y="201.5" font-size="7" text-anchor="middle" fill="#222">80</text>
<text x="484" y="209.6" font-size="7" text-anchor="middle" fill="#222">Stage temperature (°C)</text>
<text transform="translate(417.9,146.5) rotate(-90)" font-size="6.8" text-anchor="middle" fill="#222">Wavelength red detuning (nm)</text>
<g clip-path="url(#ci)"><path d="M431.8,194.3 L536.0,104.2" stroke="#222" stroke-width="0.9"/></g>
<rect x="430.7" y="193.2" width="2.2" height="2.2" fill="#d01010"/>
<rect x="451.5" y="179.4" width="2.2" height="2.2" fill="#d01010"/>
<rect x="472.4" y="150.3" width="2.2" height="2.2" fill="#d01010"/>
<rect x="493.2" y="125.4" width="2.2" height="2.2" fill="#d01010"/>
<rect x="514.1" y="104.6" width="2.2" height="2.2" fill="#d01010"/>
<rect x="534.9" y="100.5" width="2.2" height="2.2" fill="#d01010"/>
<path d="M482,176.4 H503.8 V155" stroke="#111" stroke-width="1.2" fill="none"/>
<path d="M500.8,159.9 L503.8,154.3 L507,159.9" stroke="#111" stroke-width="1.3" fill="none"/>
<text x="473.3" y="174.9" font-size="6.8" font-style="italic" fill="#222" stroke="#222" stroke-width="0.15" textLength="28.3">13 pm/ °C</text>
</svg>
</body></html>
